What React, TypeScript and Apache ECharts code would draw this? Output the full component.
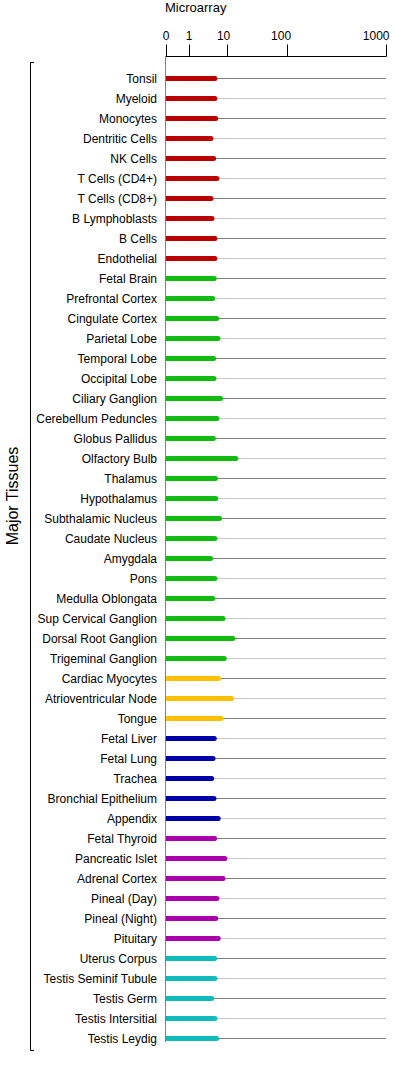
import React, { useEffect, useRef } from "react";
import * as echarts from "echarts";

const categories = [
  "Tonsil", "Myeloid", "Monocytes", "Dentritic Cells", "NK Cells", "T Cells (CD4+)", "T Cells (CD8+)", "B Lymphoblasts", "B Cells", "Endothelial",
  "Fetal Brain", "Prefrontal Cortex", "Cingulate Cortex", "Parietal Lobe", "Temporal Lobe", "Occipital Lobe", "Ciliary Ganglion", "Cerebellum Peduncles", "Globus Pallidus", "Olfactory Bulb",
  "Thalamus", "Hypothalamus", "Subthalamic Nucleus", "Caudate Nucleus", "Amygdala", "Pons", "Medulla Oblongata", "Sup Cervical Ganglion", "Dorsal Root Ganglion", "Trigeminal Ganglion",
  "Cardiac Myocytes", "Atrioventricular Node", "Tongue",
  "Fetal Liver", "Fetal Lung", "Trachea", "Bronchial Epithelium", "Appendix",
  "Fetal Thyroid", "Pancreatic Islet", "Adrenal Cortex", "Pineal (Day)", "Pineal (Night)", "Pituitary",
  "Uterus Corpus", "Testis Seminif Tubule", "Testis Germ", "Testis Intersitial", "Testis Leydig",
];

const values = [
  6.2, 6.2, 6.5, 5.0, 5.8, 6.9, 5.0, 5.3, 6.2, 6.2,
  6.0, 5.5, 6.8, 7.3, 5.8, 5.9, 8.3, 6.9, 5.7, 17.0,
  6.4, 6.5, 7.9, 6.2, 4.9, 6.2, 5.5, 9.4, 14.9, 10.0,
  7.5, 14.1, 8.5,
  6.0, 5.6, 5.2, 5.9, 7.4,
  6.1, 10.3, 9.4, 6.9, 6.5, 7.4,
  6.1, 6.2, 5.2, 6.2, 6.8,
];

const groupSizes = [10, 20, 3, 5, 6, 5];
const groupColors = ["#bb0000", "#11bb11", "#ffc000", "#0000aa", "#aa00aa", "#11bbbb"];
const rowLineColors = ["#808080", "#c8c8c8"];

const tickValues = [0, 1, 10, 100, 1000];
const tickLabels = ["0", "1", "10", "100", "1000"];

const FONT = "'Liberation Sans', Arial, Helvetica, sans-serif";

// axis transform used by the original chart (compressed power scale)
const P = 0.208;
const A = 61.36;
const ONE = 23;
const t = (v: number) => (v <= 1 ? v * ONE : ONE + A * (Math.pow(v, P) - 1));
const tMax = t(1000);

const groupOf: number[] = [];
groupSizes.forEach((n, g) => {
  for (let k = 0; k < n; k++) groupOf.push(g);
});

export default function App() {
  const ref = useRef<HTMLDivElement>(null);
  useEffect(() => {
    if (!ref.current) return;
    const chart = echarts.init(ref.current, null, { renderer: "svg" });
    const tickPos = tickValues.map(t);
    const labelPos = tickValues.map((v, i) => t(v) + 3.5 - tickLabels[i].length * 3.34);
    const option: any = {
      animation: false,
      textStyle: { fontFamily: FONT },
      title: {
        text: "Microarray",
        left: 165,
        top: 1,
        padding: 0,
        textStyle: { fontSize: 13, fontWeight: "normal", color: "#000", fontFamily: FONT },
      },
      grid: { left: 166, right: 7, top: 68.5, bottom: 31.5, containLabel: false },
      xAxis: {
        type: "value",
        position: "top",
        offset: 12,
        min: 0,
        max: tMax,
        splitLine: { show: false },
        axisLine: { show: true, lineStyle: { color: "#000", width: 1 } },
        axisTick: { show: true, length: 12, lineStyle: { color: "#000" }, customValues: tickPos },
        axisLabel: {
          show: true,
          customValues: labelPos,
          margin: 15,
          fontSize: 12,
          color: "#000",
          fontFamily: FONT,
          hideOverlap: false,
          formatter: (val: number) => {
            let best = 0;
            let bd = Infinity;
            labelPos.forEach((p, i) => {
              const d = Math.abs(p - val);
              if (d < bd) {
                bd = d;
                best = i;
              }
            });
            return tickLabels[best];
          },
        },
      },
      yAxis: {
        type: "category",
        inverse: true,
        data: categories,
        axisLine: { show: false },
        axisTick: { show: false },
        splitLine: { show: false },
        axisLabel: { fontSize: 12, color: "#000", margin: 9, fontFamily: FONT, interval: 0 },
      },
      series: [
        {
          type: "custom",
          name: "rows",
          z: 1,
          silent: true,
          encode: { x: 0, y: 1 },
          data: categories.map((_, i) => [tMax, i]),
          renderItem: (params: any, api: any) => {
            const i = api.value(1);
            const s = api.coord([0, i]);
            const e = api.coord([api.value(0), i]);
            const y = Math.floor(s[1]) + 0.5;
            return {
              type: "line",
              shape: { x1: s[0], y1: y, x2: e[0], y2: y },
              style: { stroke: rowLineColors[i % 2], lineWidth: 1 },
            };
          },
        },
        {
          type: "bar",
          name: "Microarray",
          z: 3,
          barWidth: 5,
          silent: true,
          data: values.map((v, i) => ({
            value: t(v),
            itemStyle: { color: groupColors[groupOf[i]], borderRadius: [0, 2.5, 2.5, 0] },
          })),
        },
      ],
      graphic: [
        {
          type: "line",
          shape: { x1: 165.5, y1: 56, x2: 165.5, y2: 1042 },
          style: { stroke: "#808080", lineWidth: 1 },
          z: 10,
        },
        {
          type: "polyline",
          shape: { points: [[34, 62.5], [30.5, 62.5], [30.5, 1050.5], [34, 1050.5]] },
          style: { stroke: "#000", lineWidth: 1, fill: null },
        },
        {
          type: "text",
          x: 12.5,
          y: 496,
          rotation: Math.PI / 2,
          style: {
            text: "Major Tissues",
            fontSize: 16,
            fontFamily: FONT,
            fill: "#000",
            align: "center",
            verticalAlign: "middle",
          },
        },
      ],
    };
    chart.setOption(option);
    return () => chart.dispose();
  }, []);
  return (
    <div
      ref={ref}
      style={{ position: "fixed", left: 0, top: 0, width: 393, height: 1080, background: "#fff" }}
    />
  );
}
